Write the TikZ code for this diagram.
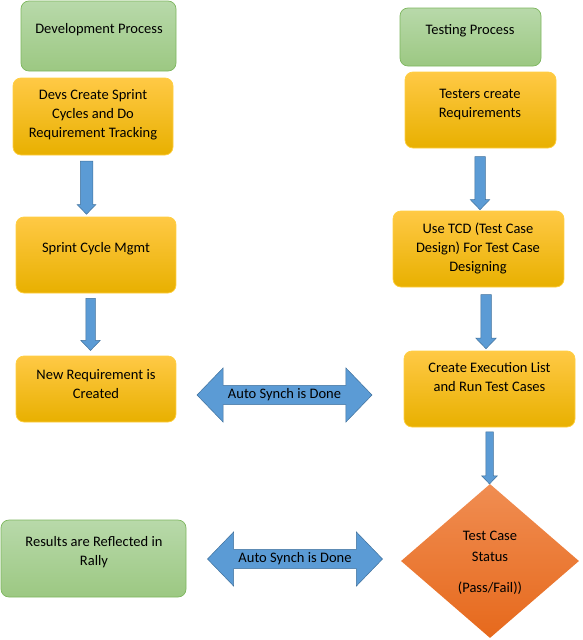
\documentclass[tikz,border=0pt]{standalone}
\usepackage{fontspec}
\setmainfont{Carlito}
\usetikzlibrary{shapes.geometric,shapes.arrows,calc}
\definecolor{gtop}{HTML}{B8D9AA}
\definecolor{gbot}{HTML}{9CC882}
\definecolor{gline}{HTML}{7DB65E}
\definecolor{otop}{HTML}{FFC945}
\definecolor{omid}{HTML}{FFC000}
\definecolor{obot}{HTML}{E8B000}
\definecolor{oline}{HTML}{FFCF40}
\definecolor{dtop}{HTML}{F08D52}
\definecolor{dbot}{HTML}{E6691C}
\definecolor{bfill}{HTML}{5B9BD5}
\definecolor{bline}{HTML}{41719C}
\tikzset{
  box/.style={rectangle, rounded corners=8pt, inner sep=0pt, line width=0.7pt},
  greenbox/.style={box, draw=gline, top color=gtop, bottom color=gbot},
  orangebox/.style={box, draw=oline, top color=otop, middle color=omid, bottom color=obot},
  txt/.style={align=center, inner sep=0pt, font=\fontsize{14.5}{19}\selectfont, text=black},
  downarrow/.style={single arrow, shape border rotate=270, fill=bfill, draw=bline, line width=0.5pt, single arrow tip angle=88},
  twoway/.style={double arrow, fill=bfill, draw=bline, line width=0.5pt, inner sep=0pt, minimum height=175pt, minimum width=54pt, double arrow head extend=11.5pt, double arrow tip angle=92, font=\fontsize{14.5}{19}\selectfont, text=black}
}
\begin{document}
\begin{tikzpicture}[x=1pt,y=-1pt]
\useasboundingbox (0,0) rectangle (583,640);
% left column boxes
\node[greenbox, minimum width=155pt, minimum height=70pt] (devproc) at (98.5,36) {};
\node[txt] (devprocT) at (99,30) {Development Process};
\node[orangebox, minimum width=160pt, minimum height=77pt] (devs) at (93,116.5) {};
\node[txt] (devsT) at (93,115) {Devs Create Sprint\\Cycles and Do\\Requirement Tracking};
\node[orangebox, minimum width=160pt, minimum height=76pt] (sprint) at (96,255) {};
\node[txt] (sprintT) at (96,249) {Sprint Cycle Mgmt};
\node[orangebox, minimum width=160pt, minimum height=66pt] (newreq) at (96,389) {};
\node[txt] (newreqT) at (96,384) {New Requirement is\\Created};
\node[greenbox, minimum width=185pt, minimum height=77pt] (results) at (93.5,558.5) {};
\node[txt] (resultsT) at (94,552.5) {Results are Reflected in\\Rally};
% right column boxes
\node[greenbox, minimum width=141pt, minimum height=58pt] (testproc) at (470.5,37) {};
\node[txt] (testprocT) at (470,31) {Testing Process};
\node[orangebox, minimum width=151pt, minimum height=76pt] (testers) at (480.5,110) {};
\node[txt] (testersT) at (480,104.5) {Testers create\\Requirements};
\node[orangebox, minimum width=171pt, minimum height=76pt] (tcd) at (478.5,249) {};
\node[txt] (tcdT) at (478,248) {Use TCD (Test Case\\Design) For Test Case\\Designing};
\node[orangebox, minimum width=171pt, minimum height=76pt] (exec) at (489.5,389) {};
\node[txt] (execT) at (489.5,377.5) {Create Execution List\\and Run Test Cases};
\node[diamond, aspect=1.156, minimum width=178pt, minimum height=154pt, inner sep=0pt, top color=dtop, bottom color=dbot] (status) at (490,561) {};
\node[txt] (statusT) at (490,563) {Test Case\\[2pt]Status\\[12pt](Pass/Fail))};
% vertical block arrows
\node[downarrow, minimum height=53pt, inner sep=6pt, single arrow head extend=3pt] (a1) at (86.5,184.5) {};
\node[downarrow, minimum height=52pt, inner sep=4.5pt, single arrow head extend=5pt] (a2) at (90.5,322) {};
\node[downarrow, minimum height=53pt, inner sep=5pt, single arrow head extend=4.5pt] (a3) at (480,180.5) {};
\node[downarrow, minimum height=54pt, inner sep=5pt, single arrow head extend=5pt] (a4) at (486,319) {};
\node[downarrow, minimum height=52pt, inner sep=3.5pt, single arrow head extend=4pt] (a5) at (489.5,456) {};
% horizontal double arrows
\node[twoway] (sync1) at (284.5,395) {Auto Synch is Done};
\node[twoway] (sync2) at (295,559) {Auto Synch is Done};
\end{tikzpicture}
\end{document}
